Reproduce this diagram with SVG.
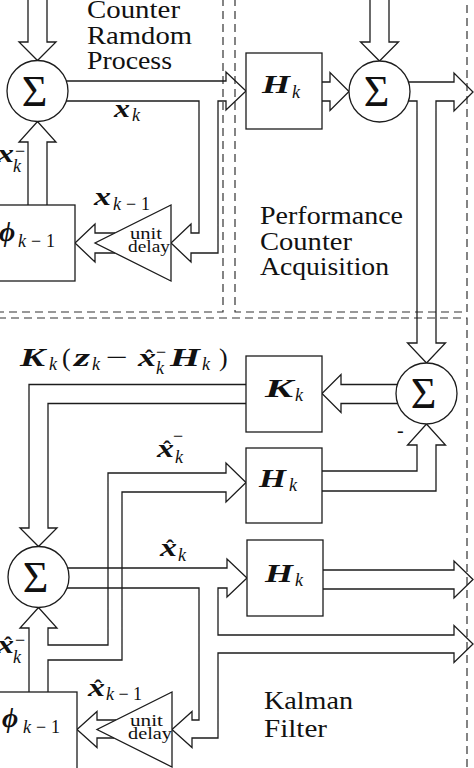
<svg xmlns="http://www.w3.org/2000/svg" width="474" height="768" viewBox="0 0 474 768">
<style>
.ln{fill:none;stroke:#1c1c1c;stroke-width:1.3;stroke-linejoin:miter;stroke-miterlimit:10}
.bx{fill:#fff;stroke:#1c1c1c;stroke-width:1.3}
.ds{fill:none;stroke:#333;stroke-width:1.2;stroke-dasharray:8 5}
.t{font-family:"Liberation Serif","DejaVu Serif",serif;font-size:26px;fill:#111}
.ud{font-family:"Liberation Serif","DejaVu Serif",serif;font-size:17px;fill:#111}
.sg{font-family:"Liberation Serif","DejaVu Serif",serif;font-size:44px;fill:#111;text-anchor:middle}
.mb{font-family:"Liberation Serif","DejaVu Serif",serif;font-style:italic;font-weight:bold;font-size:26px;fill:#111}
.ms{font-family:"Liberation Serif","DejaVu Serif",serif;font-style:italic;font-size:18px;fill:#111}
.mu{font-style:normal}
.mr{font-family:"Liberation Serif","DejaVu Serif",serif;font-size:26px;fill:#111}
.hat{font-family:"Liberation Serif","DejaVu Serif",serif;font-weight:bold;font-size:24px;fill:#111;text-anchor:middle}
</style>
<g id="regions">
<path class="ds" d="M223,-2 V312 H-2"/>
<path class="ds" d="M235,-2 V312 H467 V-2"/>
<path class="ds" d="M-2,318 H467 V770"/>
<text class="t" x="87" y="18" textLength="93" lengthAdjust="spacingAndGlyphs">Counter</text>
<text class="t" x="87" y="44" textLength="105" lengthAdjust="spacingAndGlyphs">Ramdom</text>
<text class="t" x="87" y="69" textLength="85" lengthAdjust="spacingAndGlyphs">Process</text>
<text class="t" x="260" y="224" textLength="143" lengthAdjust="spacingAndGlyphs">Performance</text>
<text class="t" x="260" y="250" textLength="92" lengthAdjust="spacingAndGlyphs">Counter</text>
<text class="t" x="260" y="275" textLength="129" lengthAdjust="spacingAndGlyphs">Acquisition</text>
<text class="t" x="264" y="709" textLength="89" lengthAdjust="spacingAndGlyphs">Kalman</text>
<text class="t" x="264" y="737" textLength="63" lengthAdjust="spacingAndGlyphs">Filter</text>
</g>
<g id="connectors">
<path class="ln" d="M28,-2 V42 H19 L37.5,60.5 L56,42 H47 V-2"/>
<path class="ln" d="M370,-2 V42 H360.5 L379.5,61 L398.5,42 H389 V-2"/>
<path class="ln" d="M66,81 H226 V72 L246,91 L226,110 V101 H218 V253 H191 V262 L171,243 L191,224 V233 H199 V101 H66"/>
<path class="ln" d="M115,233 H95 V224 L75,243 L95,262 V253 H115"/>
<path class="ln" d="M28,205 V142 H19 L37.5,121.5 L56,142 H47 V205"/>
<path class="ln" d="M322,82 H330 V72.5 L349,91.5 L330,110.5 V101 H322"/>
<path class="ln" d="M408.5,82 H454 V73 L473,92 L454,111 V101 H436 V343 H445.5 L426.5,363 L407.5,343 H417 V101 H408.5"/>
<path class="ln" d="M397.5,384.5 H341 V374.5 L322,393.5 L341,412.5 V403.5 H397.5"/>
<path class="ln" d="M246,384.5 H29 V528 H20 L38.5,546.5 L57,528 H48 V403.5 H246"/>
<path class="ln" d="M322,471 H417 V445 H407.5 L426.5,424 L445.5,445 H436 V491 H322"/>
<path class="ln" d="M29,692 V628 H20 L38.5,607.5 L57,628 H48 V645 H108 V473 H226 V463 L246,482.5 L226,502 V492 H122 V660 H48 V692"/>
<path class="ln" d="M67.6,568 H227 V559 L247,578 L227,597 V588 H218 V635 H454 V625.5 L473,644 L454,662.5 V653 H218 V738 H192 V747.5 L172,729.5 L192,711.5 V720 H199 V588 H66.9"/>
<path class="ln" d="M116,720 H97 V711.5 L77,729.5 L97,747.5 V738 H114"/>
<path class="ln" d="M323,570 H454 V561 L473,579.5 L454,598 V589 H323"/>
<text class="mr" x="397" y="437" style="font-size:20px">-</text>
</g>
<g id="sum1"><circle class="bx" cx="37.5" cy="91" r="30.5"/><text class="sg" x="34.5" y="105.5">Σ</text></g>
<g id="sum2"><circle class="bx" cx="379.5" cy="91.5" r="30.5"/><text class="sg" x="376.5" y="106">Σ</text></g>
<g id="sum3"><circle class="bx" cx="426.5" cy="393.5" r="30.5"/><text class="sg" x="423.5" y="408">Σ</text></g>
<g id="sum4"><circle class="bx" cx="38.5" cy="577" r="30.5"/><text class="sg" x="35.5" y="591.5">Σ</text></g>
<g id="H1"><rect class="bx" x="246" y="53" width="76" height="76"/><text class="mb" x="262" y="93" textLength="28" lengthAdjust="spacingAndGlyphs">H</text><text class="ms" x="292" y="98">k</text></g>
<g id="K"><rect class="bx" x="246" y="356" width="76" height="76"/><text class="mb" x="265" y="397" textLength="28" lengthAdjust="spacingAndGlyphs">K</text><text class="ms" x="295" y="401">k</text></g>
<g id="H2"><rect class="bx" x="246" y="448" width="76" height="75"/><text class="mb" x="259" y="487" textLength="27" lengthAdjust="spacingAndGlyphs">H</text><text class="ms" x="289" y="491">k</text></g>
<g id="H3"><rect class="bx" x="247" y="540" width="76" height="76"/><text class="mb" x="265" y="582" textLength="28" lengthAdjust="spacingAndGlyphs">H</text><text class="ms" x="295" y="586">k</text></g>
<g id="phi1"><rect class="bx" x="-1" y="205" width="76" height="76"/><text class="mb" x="-1" y="241" style="font-size:28px">ϕ</text><text class="ms" x="18" y="247" textLength="37">k<tspan class="mu">−1</tspan></text></g>
<g id="phi2"><rect class="bx" x="-1" y="692" width="78" height="80"/><text class="mb" x="2" y="727" style="font-size:28px">ϕ</text><text class="ms" x="23" y="733" textLength="37">k<tspan class="mu">−1</tspan></text></g>
<g id="delay1"><polygon class="bx" points="171,205 171,281 95,243"/><text class="ud" x="130" y="239" textLength="32" lengthAdjust="spacingAndGlyphs">unit</text><text class="ud" x="128" y="252" textLength="42" lengthAdjust="spacingAndGlyphs">delay</text></g>
<g id="delay2"><polygon class="bx" points="172,692 172,767 97,729.5"/><text class="ud" x="130" y="726" textLength="33" lengthAdjust="spacingAndGlyphs">unit</text><text class="ud" x="128" y="739" textLength="44" lengthAdjust="spacingAndGlyphs">delay</text></g>
<g id="labels">
<text class="mb" x="114" y="117" textLength="16" lengthAdjust="spacingAndGlyphs">x</text><text class="ms" x="132" y="121">k</text>
<text class="mb" x="-3" y="162" textLength="17" lengthAdjust="spacingAndGlyphs">x</text><text class="ms mu" x="15" y="156.5">−</text><text class="ms" x="13" y="172">k</text>
<text class="mb" x="94" y="205" textLength="17" lengthAdjust="spacingAndGlyphs">x</text><text class="ms" x="113" y="210" textLength="37">k<tspan class="mu">−1</tspan></text>
<text class="mb" x="20" y="366" textLength="25" lengthAdjust="spacingAndGlyphs">K</text><text class="ms" x="49" y="370">k</text>
<text class="mr" x="62" y="366">(</text>
<text class="mb" x="74" y="366" textLength="16" lengthAdjust="spacingAndGlyphs">z</text><text class="ms" x="92" y="370">k</text>
<text class="mr" x="106" y="366" textLength="22" lengthAdjust="spacingAndGlyphs">−</text>
<text class="hat" x="149" y="366">ˆ</text><text class="mb" x="138" y="366" textLength="18" lengthAdjust="spacingAndGlyphs">x</text><text class="ms mu" x="156" y="357.5">−</text><text class="ms" x="156" y="374">k</text>
<text class="mb" x="170" y="366" textLength="30" lengthAdjust="spacingAndGlyphs">H</text><text class="ms" x="202" y="370">k</text>
<text class="mr" x="219" y="366">)</text>
<text class="hat" x="167" y="457">ˆ</text><text class="mb" x="157" y="457" textLength="17" lengthAdjust="spacingAndGlyphs">x</text><text class="ms mu" x="173" y="441.5">−</text><text class="ms" x="175" y="463">k</text>
<text class="hat" x="170" y="556">ˆ</text><text class="mb" x="160" y="556" textLength="17" lengthAdjust="spacingAndGlyphs">x</text><text class="ms" x="178" y="561">k</text>
<text class="hat" x="8" y="653">ˆ</text><text class="mb" x="-3" y="653" textLength="17" lengthAdjust="spacingAndGlyphs">x</text><text class="ms mu" x="15" y="645.5">−</text><text class="ms" x="13" y="663">k</text>
<text class="hat" x="98" y="696">ˆ</text><text class="mb" x="88" y="696" textLength="17" lengthAdjust="spacingAndGlyphs">x</text><text class="ms" x="106" y="700" textLength="36">k<tspan class="mu">−1</tspan></text>
</g>
</svg>
